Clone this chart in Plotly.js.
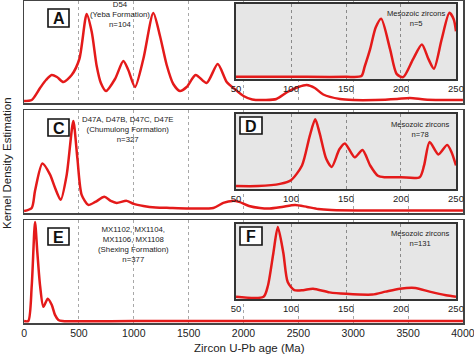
<!DOCTYPE html>
<html>
<head>
<meta charset="utf-8">
<script src="https://cdn.plot.ly/plotly-3.0.1.min.js"></script>
<style>html,body{margin:0;padding:0;background:#fff;}#chart{width:474px;height:357px;}</style>
</head>
<body>
<div id="chart"></div>
<script>
// ---------- DATA ----------
// Main panels: age (Ma) vs kernel density (relative)
var ageA = [0, 70, 146, 200, 252, 300, 358, 434, 504, 571, 617, 662, 700, 747, 829, 905, 950, 1011, 1087, 1178, 1239, 1300, 1360, 1421, 1482, 1564, 1664, 1765, 1847, 1930, 2000, 2080, 2200, 2300, 2400, 2500, 2576, 2650, 2727, 2879, 3000, 3200, 3400, 3517, 3650, 3800, 4000];
var kdeA = [0, 0.01, 0.13, 0.21, 0.26, 0.24, 0.19, 0.26, 0.42, 0.87, 0.69, 0.35, 0.18, 0.10, 0.22, 0.40, 0.31, 0.14, 0.42, 0.88, 0.65, 0.36, 0.17, 0.10, 0.14, 0.26, 0.18, 0.37, 0.19, 0.11, 0.05, 0.015, 0.01, 0.02, 0.09, 0.14, 0.16, 0.13, 0.065, 0.02, 0.01, 0.01, 0.02, 0.03, 0.015, 0.01, 0.01];

var ageC = [0, 70, 100, 167, 237, 282, 334, 389, 449, 486, 525, 586, 650, 732, 790, 844, 935, 1000, 1087, 1200, 1330, 1500, 1725, 1816, 1900, 1960, 2050, 2150, 2240, 2350, 2470, 2580, 2680, 2800, 3200, 4000];
var kdeC = [0, 0.03, 0.2, 0.47, 0.36, 0.23, 0.11, 0.36, 0.89, 0.52, 0.16, 0.06, 0.09, 0.14, 0.10, 0.08, 0.10, 0.07, 0.05, 0.035, 0.03, 0.025, 0.03, 0.08, 0.10, 0.09, 0.05, 0.03, 0.025, 0.04, 0.06, 0.04, 0.02, 0.01, 0.005, 0.005];

var ageE = [0, 39, 70, 100, 121, 146, 176, 216, 252, 282, 313, 350, 1000, 2000, 3000, 4000];
var kdeE = [0, 0, 0.35, 0.98, 0.68, 0.35, 0.14, 0.22, 0.16, 0.06, 0.01, 0, 0, 0, 0, 0];

// Insets: Mesozoic zircons (50-250 Ma)
var ageB = [50, 100, 150, 164, 167, 172, 177, 182, 190, 196, 202, 211, 219, 225, 230, 237, 244, 248, 250];
var kdeB = [0.01, 0.01, 0.01, 0.02, 0.15, 0.39, 0.68, 0.80, 0.39, 0.05, 0.005, 0.25, 0.45, 0.25, 0.12, 0.52, 0.88, 0.79, 0.63];

var ageD = [50, 70, 90, 100, 110, 117, 122, 126, 132, 137, 144, 149, 158, 165, 172, 179, 185, 200, 217, 221, 226, 234, 242, 246, 250];
var kdeD = [0.02, 0.02, 0.05, 0.10, 0.30, 0.70, 0.93, 0.74, 0.39, 0.28, 0.52, 0.60, 0.41, 0.51, 0.30, 0.16, 0.14, 0.14, 0.14, 0.30, 0.62, 0.45, 0.58, 0.48, 0.30];

var ageF = [50, 75, 79, 84, 88, 93, 97, 103, 111, 120, 135, 150, 174, 186, 199, 213, 226, 241, 250];
var kdeF = [0.01, 0.01, 0.16, 0.61, 0.96, 0.61, 0.21, 0.10, 0.10, 0.12, 0.07, 0.05, 0.04, 0.08, 0.12, 0.13, 0.08, 0.03, 0.01];

var mainTicks = [0, 500, 1000, 1500, 2000, 2500, 3000, 3500, 4000];
var insetTicks = [50, 100, 150, 200, 250];

var panelLetters = ["A", "C", "E", "D", "F"];
var sampleTexts = [
  "D54<br>(Yeba Formation)<br>n=104",
  "D47A, D47B, D47C, D47E<br>(Chumulong Formation)<br>n=327",
  "MX1102, MX1104,<br>MX1106, MX1108<br>(Shexing Formation)<br>n=377"
];
var insetTexts = ["Mesozoic zircons<br>n=5", "Mesozoic zircons<br>n=78", "Mesozoic zircons<br>n=131"];

// ---------- LAYOUT HELPERS ----------
var W = 474, H = 357;
function px(x) { return x / W; }
function py(y) { return 1 - y / H; }
var FONT = "Liberation Sans, Arial, sans-serif";
var RED = "#e41a1a";

var mainX = [px(24), px(463)];
var insetX = [px(236), px(456)];
var mainY = [[py(103), py(1)], [py(213), py(110)], [py(323), py(220)]];
var insetY = [[py(79), py(4)], [py(189), py(114)], [py(299), py(224)]];

function trace(x, y, n) {
  return {
    x: x, y: y, xaxis: "x" + (n === 1 ? "" : n), yaxis: "y" + (n === 1 ? "" : n),
    type: "scatter", mode: "lines",
    line: { color: RED, width: 2.5, shape: "spline", smoothing: 0.7 },
    hoverinfo: "skip", showlegend: false
  };
}

var data = [
  trace(ageA, kdeA, 1), trace(ageC, kdeC, 2), trace(ageE, kdeE, 3),
  trace(ageB, kdeB, 4), trace(ageD, kdeD, 5), trace(ageF, kdeF, 6)
];

var layout = {
  width: W, height: H,
  margin: { l: 0, r: 0, t: 0, b: 0 },
  paper_bgcolor: "#fff", plot_bgcolor: "#fff",
  font: { family: FONT, color: "#222" },
  showlegend: false,
  annotations: [],
  shapes: []
};

for (var i = 0; i < 3; i++) {
  var n = i + 1, sfx = n === 1 ? "" : n;
  layout["xaxis" + sfx] = {
    domain: mainX, range: [-0.5, 4000.5], anchor: "y" + sfx,
    tickvals: mainTicks, showticklabels: i === 2, ticks: "",
    ticklabeloverflow: "allow",
    tickfont: { size: 10.5, color: "#222" },
    showgrid: true, gridcolor: "#a8a8a8", griddash: "dot", gridwidth: 1,
    zeroline: false, showline: true, mirror: true, linecolor: "#444", linewidth: 1.5
  };
  layout["yaxis" + sfx] = {
    domain: mainY[i], range: [-0.02, 1.0], anchor: "x" + sfx,
    showticklabels: false, ticks: "", showgrid: false, zeroline: false,
    showline: true, mirror: true, linecolor: "#444", linewidth: 1.5
  };
}
for (var j = 0; j < 3; j++) {
  var m = j + 4;
  layout["xaxis" + m] = {
    domain: insetX, range: [49.98, 250.02], anchor: "y" + m,
    tickvals: insetTicks, showticklabels: true, ticks: "",
    ticklabeloverflow: "allow",
    tickfont: { size: 9.5, color: "#222" },
    showgrid: true, gridcolor: "#8a8a8a", griddash: "dot", gridwidth: 1,
    zeroline: false, showline: true, mirror: true, linecolor: "#333", linewidth: 1.6
  };
  layout["yaxis" + m] = {
    domain: insetY[j], range: [-0.02, 1.0], anchor: "x" + m,
    showticklabels: false, ticks: "", showgrid: false, zeroline: false,
    showline: true, mirror: true, linecolor: "#333", linewidth: 1.6
  };
  layout.shapes.push({
    type: "rect", xref: "x" + m, yref: "y" + m, layer: "below",
    x0: 49.98, x1: 250.02, y0: -0.02, y1: 1.0,
    fillcolor: "#e6e6e6", line: { width: 0 }
  });
}

// Panel letter boxes
var boxes = [[48, 9, 69, 27], [48, 119, 69, 136], [48, 228, 69, 245], [240, 117, 262, 134], [240, 227, 262, 245]];
boxes.forEach(function (b, k) {
  layout.shapes.push({
    type: "rect", xref: "paper", yref: "paper", layer: "above",
    x0: px(b[0]), x1: px(b[2]), y0: py(b[3]), y1: py(b[1]),
    fillcolor: "#fff", line: { color: "#111", width: 1.6 }
  });
  layout.annotations.push({
    xref: "paper", yref: "paper", x: px((b[0] + b[2]) / 2), y: py((b[1] + b[3]) / 2 + 0.5),
    xanchor: "center", yanchor: "middle", showarrow: false,
    text: "<b>" + panelLetters[k] + "</b>", font: { family: FONT, size: 16, color: "#111" }
  });
});

// Sample descriptions
var samplePos = [[120, 15], [128, 129], [133, 244.5]];
sampleTexts.forEach(function (t, k) {
  layout.annotations.push({
    xref: "paper", yref: "paper", x: px(samplePos[k][0]), y: py(samplePos[k][1]),
    xanchor: "center", yanchor: "middle", showarrow: false, align: "center",
    text: t, font: { family: FONT, size: 7.8, color: "#222" }
  });
});
var insetPos = [[415.5, 18.5], [419.5, 129], [420, 238.5]];
insetTexts.forEach(function (t, k) {
  layout.annotations.push({
    xref: "paper", yref: "paper", x: px(insetPos[k][0]), y: py(insetPos[k][1]),
    xanchor: "center", yanchor: "middle", showarrow: false, align: "center",
    text: t, font: { family: FONT, size: 7.6, color: "#222" }
  });
});

// Axis titles
layout.annotations.push({
  xref: "paper", yref: "paper", x: px(249), y: py(348),
  xanchor: "center", yanchor: "middle", showarrow: false,
  text: "Zircon U-Pb age (Ma)", font: { family: FONT, size: 11.5, color: "#222" }
});
layout.annotations.push({
  xref: "paper", yref: "paper", x: px(7), y: py(163),
  xanchor: "center", yanchor: "middle", showarrow: false, textangle: -90,
  text: "Kernel Density Estimation", font: { family: FONT, size: 11.5, color: "#222" }
});

Plotly.newPlot("chart", data, layout, { staticPlot: true, displayModeBar: false });
</script>
</body>
</html>
